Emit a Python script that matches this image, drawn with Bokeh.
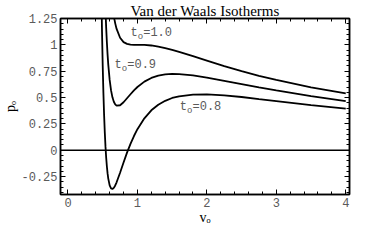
from bokeh.plotting import figure
from bokeh.models import Range1d, FixedTicker, LinearAxis, Span
from bokeh.core.properties import value
from bokeh.embed import file_html
from bokeh.resources import INLINE

# ---- data ----
v_10 = [0.64, 0.65, 0.66, 0.67, 0.68, 0.70, 0.75, 0.80, 0.85, 0.90, 0.95, 1.0, 1.1, 1.2, 1.3, 1.4, 1.5, 1.6, 1.8, 2.0, 2.25, 2.5, 2.75, 3.0, 3.5, 4.0]
p_10 = [1.372, 1.320, 1.276, 1.238, 1.204, 1.151, 1.067, 1.026, 1.009, 1.002, 1.000, 1.000, 0.999, 0.994, 0.984, 0.969, 0.953, 0.933, 0.892, 0.850, 0.798, 0.751, 0.706, 0.667, 0.597, 0.540]

v_09 = [0.52, 0.53, 0.54, 0.55, 0.56, 0.57, 0.58, 0.60, 0.62, 0.64, 0.66, 0.68, 0.70, 0.75, 0.80, 0.85, 0.90, 0.95, 1.0, 1.1, 1.2, 1.3, 1.4, 1.5, 1.6, 1.8, 2.0, 2.25, 2.5, 2.75, 3.0, 3.5, 4.0]
p_09 = [1.762, 1.523, 1.325, 1.160, 1.022, 0.907, 0.812, 0.667, 0.568, 0.502, 0.460, 0.435, 0.423, 0.427, 0.455, 0.493, 0.531, 0.568, 0.600, 0.651, 0.686, 0.708, 0.719, 0.724, 0.723, 0.710, 0.690, 0.659, 0.628, 0.596, 0.567, 0.513, 0.467]

v_08 = [0.47, 0.48, 0.49, 0.50, 0.51, 0.52, 0.53, 0.54, 0.55, 0.56, 0.57, 0.58, 0.60, 0.62, 0.64, 0.66, 0.68, 0.70, 0.75, 0.80, 0.85, 0.90, 0.95, 1.0, 1.1, 1.2, 1.3, 1.4, 1.5, 1.6, 1.8, 2.0, 2.25, 2.5, 2.75, 3.0, 3.5, 4.0]
p_08 = [2.029, 1.525, 1.122, 0.800, 0.541, 0.334, 0.167, 0.034, -0.071, -0.154, -0.220, -0.269, -0.333, -0.362, -0.367, -0.357, -0.334, -0.304, -0.213, -0.117, -0.023, 0.061, 0.135, 0.200, 0.303, 0.379, 0.432, 0.469, 0.496, 0.512, 0.528, 0.530, 0.520, 0.505, 0.485, 0.467, 0.429, 0.394]

x_ticks = [0, 1, 2, 3, 4]
y_ticks = [-0.25, 0, 0.25, 0.5, 0.75, 1, 1.25]
y_tick_labels = ["-0.25", "0", "0.25", "0.5", "0.75", "1", "1.25"]
curve_labels = ["=1.0", "=0.9", "=0.8"]

title_text = "Van der Waals Isotherms"
x_label = "vₒ"
y_label = "pₒ"

# ---- figure ----
p = figure(width=351, height=227, output_backend="svg", toolbar_location=None,
           title=title_text,
           x_range=Range1d(-0.108, 4.054), y_range=Range1d(-0.42, 1.25),
           min_border_left=0, min_border_right=2, min_border_top=0, min_border_bottom=0,
           x_axis_location=None, y_axis_location=None)
p.title.text_font = "Liberation Serif"
p.title.text_font_size = "15px"
p.title.text_font_style = "normal"
p.title.align = "center"
p.title.standoff = 0
p.title.offset = 8
p.title.text_color = "black"

p.xgrid.visible = False
p.ygrid.visible = False
p.outline_line_color = "black"
p.outline_line_width = 1.5
p.background_fill_color = "white"
p.border_fill_color = "white"

x_minor = [i * 0.2 for i in range(-0, 21) if i % 5 != 0]
y_minor = [round(-0.4 + i * 0.05, 2) for i in range(0, 34)]
y_minor = [v for v in y_minor if abs(v / 0.25 - round(v / 0.25)) > 1e-6]

tick_font = "Liberation Mono"
tick_color = "#5a5a5a"

def style_axis(ax, show_labels):
    ax.axis_line_color = "black"
    ax.axis_line_width = 1.5
    ax.major_tick_in = 5
    ax.major_tick_out = 0
    ax.minor_tick_in = 3
    ax.minor_tick_out = 0
    ax.major_tick_line_color = "black"
    ax.minor_tick_line_color = "black"
    ax.major_tick_line_width = 1
    ax.minor_tick_line_width = 1
    if show_labels:
        ax.major_label_text_font = tick_font
        ax.major_label_text_font_size = "12px"
        ax.major_label_text_color = tick_color
        ax.major_label_standoff = 3
        ax.axis_label_text_font = "Liberation Serif"
        ax.axis_label_text_font_size = "14px"
        ax.axis_label_text_font_style = "normal"
        ax.axis_label_text_color = "black"
        ax.axis_label_standoff = 0
    else:
        ax.major_label_text_font_size = "1px"
        ax.major_label_text_color = None
        ax.major_label_standoff = 0

xb = LinearAxis(ticker=FixedTicker(ticks=x_ticks, minor_ticks=x_minor), axis_label=x_label)
style_axis(xb, True)
p.add_layout(xb, "below")
xt = LinearAxis(ticker=FixedTicker(ticks=x_ticks, minor_ticks=x_minor))
style_axis(xt, False)
p.add_layout(xt, "above")

yl = LinearAxis(ticker=FixedTicker(ticks=y_ticks, minor_ticks=y_minor), axis_label=y_label,
                major_label_overrides={t: s for t, s in zip(y_ticks, y_tick_labels)})
style_axis(yl, True)
p.add_layout(yl, "left")
yr = LinearAxis(ticker=FixedTicker(ticks=y_ticks, minor_ticks=y_minor))
style_axis(yr, False)
p.add_layout(yr, "right")

p.add_layout(Span(location=0, dimension="width", line_color="black", line_width=1.3))

for vs, ps in [(v_10, p_10), (v_09, p_09), (v_08, p_08)]:
    p.line(vs, ps, line_color="black", line_width=1.8)

# curve labels: t, subscript o, "=x.x"
label_pos = [(0.90, 1.11), (0.67, 0.806), (1.61, 0.415)]
for (lx, ly), txt in zip(label_pos, curve_labels):
    p.text(x=[lx], y=[ly], text=["t"], text_font=value(tick_font), text_font_size="12px",
           text_color=tick_color, text_baseline="middle", text_align="left")
    p.text(x=[lx + 7.3 / 71], y=[ly - 4 / 105], text=["o"], text_font=value(tick_font),
           text_font_size="9px", text_color=tick_color, text_baseline="middle", text_align="left")
    p.text(x=[lx + 13 / 71], y=[ly], text=[txt], text_font=value(tick_font), text_font_size="12px",
           text_color=tick_color, text_baseline="middle", text_align="left")

open("out.html", "w").write(file_html(p, INLINE))
